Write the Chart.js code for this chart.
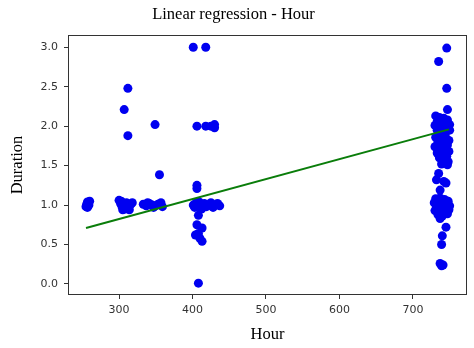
<!DOCTYPE html>
<html>
<head>
<meta charset="utf-8">
<script src="https://cdn.jsdelivr.net/npm/chart.js@4/dist/chart.umd.min.js"></script>
<style>
  html, body { margin: 0; padding: 0; background: #fff; }
  #wrap { width: 474px; height: 348px; position: relative; }
</style>
</head>
<body>
<div id="wrap"><canvas id="chart"></canvas></div>
<script>
// Observations: hour of the event and its duration
const hours = [
  // ~255 h
  255, 256, 257, 258, 259, 260, 257,
  // ~300-320 h
  300, 302, 304, 306, 308, 310, 312, 314, 316, 318, 305, 303,
  312, 307, 312,
  // ~330-360 h
  333, 337, 341, 345, 349, 353, 357, 359, 339, 347,
  349, 355,
  // ~400-440 h
  401, 418, 406, 418, 425, 430, 430,
  406, 406,
  401, 403, 405, 407, 410, 413, 416, 419, 422, 425, 428, 431, 434, 437, 409, 412,
  408, 406, 413, 404, 408, 413, 410, 408,
  // ~730-750 h
  746, 735, 746, 747,
  731, 736, 742, 747, 733, 739, 745, 750, 730, 736, 742, 748, 733, 739, 745, 750, 737, 743,
  731, 738, 745, 749, 734, 741, 747, 730, 737, 744, 749, 733, 740, 746, 736, 743, 748, 739, 747,
  735, 732, 742, 745, 737,
  731, 737, 743, 748, 729, 734, 740, 746, 750, 732, 738, 744, 749, 730, 736, 742, 747, 734, 740, 737,
  745, 740, 739, 737, 741, 739
];
const durations = [
  0.98, 1.01, 0.97, 1.03, 1.00, 1.05, 1.04,
  1.06, 1.02, 0.98, 1.00, 0.95, 1.03, 0.97, 0.94, 1.01, 1.03, 0.94, 1.05,
  2.48, 2.21, 1.88,
  1.01, 0.99, 1.02, 1.00, 0.99, 1.01, 1.03, 0.98, 1.03, 0.97,
  2.02, 1.385,
  3.00, 3.00, 2.00, 2.00, 2.00, 2.02, 1.98,
  1.25, 1.21,
  1.00, 0.97, 1.03, 0.99, 1.01, 0.96, 1.02, 0.98, 1.00, 1.03, 0.97, 1.00, 1.02, 0.99, 1.04, 0.95,
  0.87, 0.75, 0.71, 0.62, 0.64, 0.54, 0.58, 0.01,
  2.99, 2.82, 2.48, 2.21,
  2.13, 2.11, 2.10, 2.08, 2.06, 2.05, 2.04, 2.02, 2.01, 2.00, 1.99, 1.97, 1.95, 1.94, 1.93, 1.95, 1.92, 2.06,
  1.86, 1.84, 1.85, 1.82, 1.80, 1.78, 1.76, 1.74, 1.72, 1.70, 1.68, 1.66, 1.64, 1.62, 1.60, 1.58, 1.55, 1.52, 1.51,
  1.40, 1.32, 1.30, 1.28, 1.19,
  1.08, 1.09, 1.07, 1.05, 1.03, 1.04, 1.02, 1.01, 0.99, 0.98, 0.97, 0.96, 0.94, 0.93, 0.92, 0.91, 0.89, 0.88, 0.86, 0.83,
  0.72, 0.61, 0.50, 0.26, 0.24, 0.23
];

// Fitted line endpoints (start and end of the hour range)
const fitHours = [255, 749];
const fitDurations = [0.71, 1.96];

// Axis ticks
const xTicks = [300, 400, 500, 600, 700];
const yTicks = [0.0, 0.5, 1.0, 1.5, 2.0, 2.5, 3.0];

const points = hours.map((h, i) => ({ x: h, y: durations[i] }));
const fitPoints = fitHours.map((h, i) => ({ x: h, y: fitDurations[i] }));

// Frame around the plotting area on all four sides
const frame = {
  id: 'frame',
  afterDraw(chart) {
    const { ctx, chartArea: a } = chart;
    ctx.save();
    ctx.strokeStyle = '#333';
    ctx.lineWidth = 1;
    ctx.strokeRect(Math.round(a.left) + 0.5, Math.round(a.top) + 0.5,
                   Math.round(a.right - a.left) - 1, Math.round(a.bottom - a.top) - 1);
    ctx.restore();
  }
};

const tickFont = { family: 'DejaVu Sans', size: 11 };
const serif = 'Liberation Serif';

new Chart(document.getElementById('chart'), {
  data: {
    datasets: [
      {
        type: 'line',
        data: fitPoints,
        borderColor: '#0a7d0a',
        borderWidth: 2,
        pointRadius: 0,
        fill: false,
        order: 0
      },
      {
        type: 'scatter',
        data: points,
        backgroundColor: '#0000f0',
        borderColor: '#0000f0',
        borderWidth: 0,
        pointRadius: 4.5,
        order: 1
      }
    ]
  },
  options: {
    responsive: true,
    maintainAspectRatio: false,
    animation: false,
    devicePixelRatio: 1,
    layout: { padding: { left: 0, right: 7, top: 0, bottom: 0 } },
    plugins: {
      legend: { display: false },
      tooltip: { enabled: false },
      title: {
        display: true,
        text: 'Linear regression - Hour',
        color: '#000',
        font: { family: serif, size: 16.5, weight: 'normal' },
        padding: { top: 5, bottom: 10.2 }
      }
    },
    scales: {
      x: {
        type: 'linear',
        min: 230.5,
        max: 773.6,
        afterFit(scale) { scale.height = 53; },
        afterBuildTicks(scale) { scale.ticks = xTicks.map(v => ({ value: v })); },
        border: { display: false },
        grid: { display: true, drawOnChartArea: false, drawTicks: true, tickLength: 4, color: '#333' },
        ticks: { color: '#333', font: tickFont, padding: 5, maxRotation: 0 },
        title: {
          display: true,
          text: 'Hour',
          color: '#000',
          font: { family: serif, size: 16.5 },
          padding: { top: 0, bottom: 3 }
        }
      },
      y: {
        type: 'linear',
        min: -0.14,
        max: 3.156,
        afterFit(scale) { scale.width = 68; },
        afterBuildTicks(scale) { scale.ticks = yTicks.map(v => ({ value: v })); },
        border: { display: false },
        grid: { display: true, drawOnChartArea: false, drawTicks: true, tickLength: 4, color: '#333' },
        ticks: { color: '#333', font: tickFont, padding: 6, callback: v => Number(v).toFixed(1) },
        title: {
          display: true,
          text: 'Duration',
          color: '#000',
          font: { family: serif, size: 16.5 },
          padding: { top: 8, bottom: 0 }
        }
      }
    }
  },
  plugins: [frame]
});
</script>
</body>
</html>
